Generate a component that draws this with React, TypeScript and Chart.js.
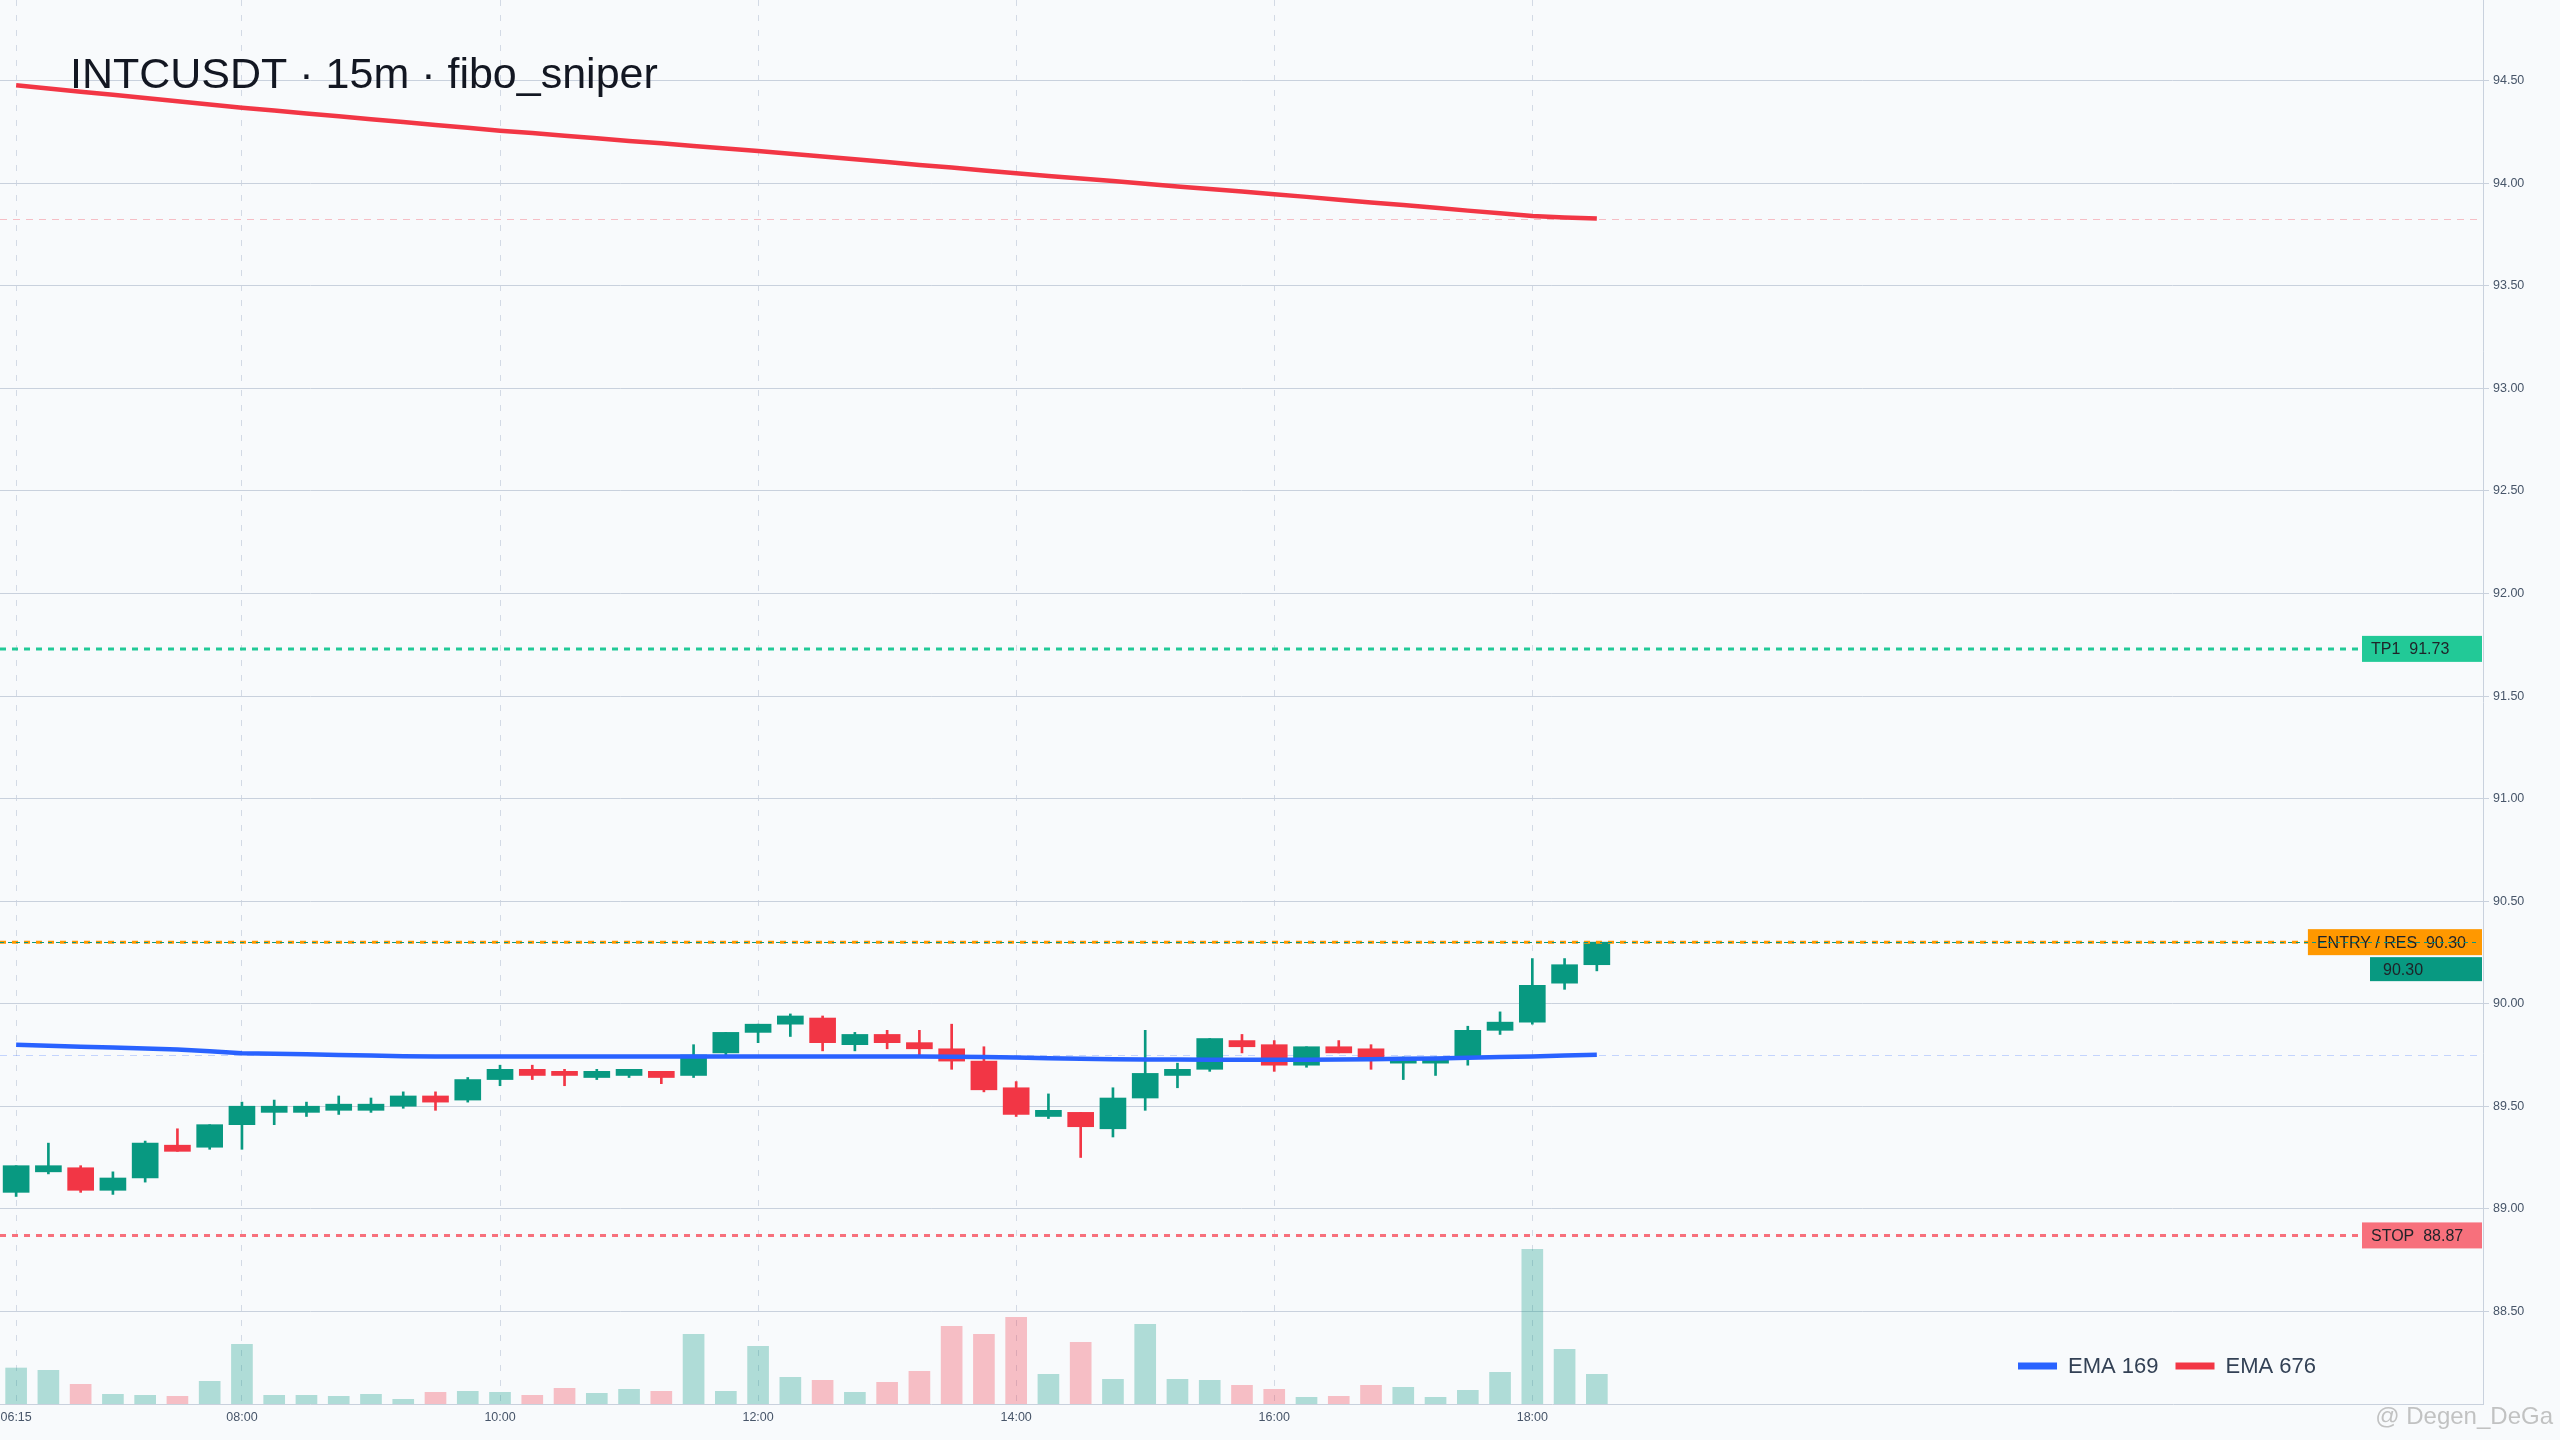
import React, { useEffect, useRef } from "react";
import { Chart, registerables } from "chart.js";

Chart.register(...registerables);

// ---------------- data ----------------
const TIMES = [
  "06:15", "06:30", "06:45", "07:00", "07:15", "07:30", "07:45", "08:00", "08:15", "08:30",
  "08:45", "09:00", "09:15", "09:30", "09:45", "10:00", "10:15", "10:30", "10:45", "11:00",
  "11:15", "11:30", "11:45", "12:00", "12:15", "12:30", "12:45", "13:00", "13:15", "13:30",
  "13:45", "14:00", "14:15", "14:30", "14:45", "15:00", "15:15", "15:30", "15:45", "16:00",
  "16:15", "16:30", "16:45", "17:00", "17:15", "17:30", "17:45", "18:00", "18:15", "18:30",
];

const OPEN = [
  89.08, 89.18, 89.20, 89.09, 89.15, 89.31, 89.30, 89.41, 89.47, 89.47,
  89.48, 89.48, 89.50, 89.55, 89.53, 89.63, 89.68, 89.67, 89.64, 89.65,
  89.67, 89.65, 89.76, 89.86, 89.90, 89.93, 89.80, 89.85, 89.81, 89.78,
  89.72, 89.59, 89.45, 89.47, 89.39, 89.54, 89.65, 89.68, 89.82, 89.80,
  89.70, 89.79, 89.78, 89.71, 89.71, 89.74, 89.87, 89.91, 90.10, 90.19,
];
const HIGH = [
  89.21, 89.32, 89.21, 89.18, 89.33, 89.39, 89.41, 89.52, 89.53, 89.52,
  89.55, 89.54, 89.57, 89.57, 89.64, 89.70, 89.70, 89.68, 89.68, 89.68,
  89.67, 89.80, 89.86, 89.90, 89.95, 89.94, 89.86, 89.87, 89.87, 89.90,
  89.79, 89.62, 89.56, 89.47, 89.59, 89.87, 89.71, 89.83, 89.85, 89.82,
  89.79, 89.82, 89.80, 89.74, 89.74, 89.89, 89.96, 90.22, 90.22, 90.30,
];
const LOW = [
  89.06, 89.17, 89.08, 89.07, 89.13, 89.28, 89.29, 89.29, 89.41, 89.45,
  89.46, 89.47, 89.49, 89.48, 89.52, 89.60, 89.63, 89.60, 89.63, 89.64,
  89.61, 89.64, 89.75, 89.81, 89.84, 89.77, 89.77, 89.78, 89.75, 89.68,
  89.57, 89.45, 89.44, 89.25, 89.35, 89.48, 89.59, 89.67, 89.76, 89.67,
  89.69, 89.76, 89.68, 89.63, 89.65, 89.70, 89.85, 89.90, 90.07, 90.16,
];
const CLOSE = [
  89.21, 89.21, 89.09, 89.15, 89.32, 89.28, 89.41, 89.50, 89.50, 89.50,
  89.51, 89.51, 89.55, 89.52, 89.63, 89.68, 89.65, 89.65, 89.67, 89.68,
  89.64, 89.75, 89.86, 89.90, 89.94, 89.81, 89.85, 89.81, 89.78, 89.72,
  89.58, 89.46, 89.48, 89.40, 89.54, 89.66, 89.68, 89.83, 89.79, 89.70,
  89.79, 89.76, 89.73, 89.73, 89.73, 89.87, 89.91, 90.09, 90.19, 90.30,
];
const VOLUME = [
  360, 337, 197, 97, 87, 77, 227, 597, 87, 87,
  77, 97, 47, 117, 127, 117, 87, 157, 107, 147,
  127, 697, 127, 577, 267, 237, 117, 217, 327, 777,
  697, 867, 297, 617, 247, 797, 247, 237, 187, 147,
  67, 77, 187, 167, 67, 137, 317, 1547, 547, 297,
];
const EMA169 = [
  89.800, 89.795, 89.790, 89.786, 89.782, 89.777, 89.768, 89.758, 89.756, 89.754,
  89.750, 89.747, 89.744, 89.743, 89.743, 89.743, 89.743, 89.743, 89.742, 89.742,
  89.742, 89.742, 89.742, 89.742, 89.742, 89.742, 89.742, 89.742, 89.742, 89.741,
  89.740, 89.737, 89.734, 89.731, 89.729, 89.728, 89.728, 89.727, 89.727, 89.727,
  89.727, 89.728, 89.729, 89.731, 89.733, 89.736, 89.740, 89.743, 89.747, 89.751,
];
const EMA676 = [
  94.478, 94.463, 94.447, 94.432, 94.416, 94.400, 94.385, 94.369, 94.355, 94.341,
  94.327, 94.313, 94.299, 94.285, 94.271, 94.257, 94.245, 94.232, 94.220, 94.207,
  94.195, 94.182, 94.170, 94.158, 94.144, 94.131, 94.117, 94.104, 94.090, 94.077,
  94.063, 94.049, 94.036, 94.024, 94.011, 93.998, 93.985, 93.973, 93.960, 93.947,
  93.934, 93.920, 93.907, 93.894, 93.881, 93.867, 93.854, 93.841, 93.834, 93.828,
];

const X_TICK_INDEX = [0, 7, 15, 23, 31, 39, 47];
const LEVEL_NAMES = ["TP1", "ENTRY / RES", "STOP"];
const LEVEL_PRICES = [91.73, 90.3, 88.87];
const TITLE = "INTCUSDT · 15m · fibo_sniper";
const LEGEND_LABELS = ["EMA 169", "EMA 676"];
const WATERMARK = "@ Degen_DeGa";

// ---------------- styling ----------------
const FONT = "'Liberation Sans', Arial, Helvetica, sans-serif";
const BG = "#f8fafc";
const UP = "#089981";
const DOWN = "#f23645";
const UP_VOL = "rgba(8,153,129,0.3)";
const DOWN_VOL = "rgba(242,54,69,0.3)";
const BLUE = "#2962ff";
const RED = "#f23645";
const LEVEL_COLORS = ["#22c997", "#ff9800", "#f7707c"];
const GRID = "#c9d1dd";
const VGRID = "#d3dae5";
const TICK_COLOR = "#475569";

const isUp = (i: number) => CLOSE[i] >= OPEN[i];

const overlayPlugin = {
  id: "overlay",
  beforeDraw(chart: any) {
    const { ctx, width, height } = chart;
    ctx.save();
    ctx.fillStyle = BG;
    ctx.fillRect(0, 0, width, height);
    ctx.restore();
  },
  beforeDatasetsDraw(chart: any) {
    const { ctx, chartArea } = chart;
    const y = chart.scales.y;
    const lines: [number, string][] = [
      [EMA169[EMA169.length - 1], "rgba(41,98,255,0.25)"],
      [EMA676[EMA676.length - 1], "rgba(242,54,69,0.3)"],
    ];
    ctx.save();
    lines.forEach(([v, c]) => {
      const py = Math.round(y.getPixelForValue(v)) + 0.5;
      ctx.strokeStyle = c;
      ctx.lineWidth = 1;
      ctx.setLineDash([7, 6]);
      ctx.beginPath();
      ctx.moveTo(chartArea.left, py);
      ctx.lineTo(chartArea.right - 6, py);
      ctx.stroke();
    });
    ctx.restore();
  },
  afterDatasetsDraw(chart: any) {
    const { ctx, chartArea } = chart;
    const y = chart.scales.y;
    const right = chartArea.right - 1;
    ctx.save();
    // level lines
    LEVEL_PRICES.forEach((p, i) => {
      const py = y.getPixelForValue(p);
      ctx.strokeStyle = LEVEL_COLORS[i];
      ctx.lineWidth = 3;
      ctx.setLineDash([6, 6]);
      ctx.beginPath();
      ctx.moveTo(chartArea.left, py);
      ctx.lineTo(chartArea.right, py);
      ctx.stroke();
    });
    ctx.setLineDash([]);
    // level boxes
    ctx.font = `16px ${FONT}`;
    ctx.textBaseline = "middle";
    ctx.textAlign = "left";
    const boxes: { top: number; bottom: number }[] = [];
    LEVEL_PRICES.forEach((p, i) => {
      const text = `${LEVEL_NAMES[i]}  ${p.toFixed(2)}`;
      const tw = ctx.measureText(text).width;
      const w = Math.max(120, tw + 25);
      const h = 26;
      const cy = y.getPixelForValue(p);
      const top = cy - h / 2;
      ctx.fillStyle = LEVEL_COLORS[i];
      ctx.fillRect(right - w, top, w, h);
      ctx.fillStyle = "#1f2328";
      ctx.fillText(text, right - w + 9, cy + 1);
      boxes.push({ top, bottom: top + h });
    });
    // last price line
    const last = CLOSE[CLOSE.length - 1];
    const ly = Math.round(y.getPixelForValue(last)) + 0.5;
    ctx.strokeStyle = UP;
    ctx.lineWidth = 1;
    ctx.setLineDash([4, 4]);
    ctx.beginPath();
    ctx.moveTo(chartArea.left, ly);
    ctx.lineTo(chartArea.right - 6, ly);
    ctx.stroke();
    ctx.setLineDash([]);
    // last price box, pushed below any overlapping level box
    const lh = 24;
    let ltop = ly - lh / 2;
    boxes.forEach((b) => {
      if (ltop < b.bottom && ltop + lh > b.top) ltop = b.bottom + 2;
    });
    const lw = 112;
    ctx.fillStyle = isUp(CLOSE.length - 1) ? UP : DOWN;
    ctx.fillRect(right - lw, ltop, lw, lh);
    ctx.fillStyle = "#1f2328";
    ctx.fillText(last.toFixed(2), right - lw + 13, ltop + lh / 2 + 1);

    // title
    ctx.font = `43px ${FONT}`;
    ctx.textBaseline = "alphabetic";
    ctx.fillStyle = "#131722";
    ctx.fillText(TITLE, chartArea.left + 70, chartArea.top + 88);

    // legend
    ctx.font = `22px ${FONT}`;
    ctx.textBaseline = "middle";
    const colors = [BLUE, RED];
    const sw = 39, gap = 11, itemGap = 17;
    const widths = LEGEND_LABELS.map((l) => sw + gap + ctx.measureText(l).width);
    const total = widths.reduce((a, b) => a + b, 0) + itemGap * (widths.length - 1);
    let lx = chartArea.right - 167 - total;
    const lyc = chartArea.bottom - 38;
    LEGEND_LABELS.forEach((l, i) => {
      ctx.fillStyle = colors[i];
      ctx.fillRect(lx, lyc - 3.5, sw, 7);
      ctx.fillStyle = "#334155";
      ctx.fillText(l, lx + sw + gap, lyc + 1);
      lx += widths[i] + itemGap;
    });

    // watermark
    ctx.font = `24px ${FONT}`;
    ctx.textBaseline = "alphabetic";
    ctx.fillStyle = "rgba(175,175,175,0.75)";
    ctx.textAlign = "right";
    ctx.fillText(WATERMARK, chart.width - 7, chart.height - 16);
    ctx.restore();
  },
};

export default function App() {
  const canvasRef = useRef<HTMLCanvasElement | null>(null);

  useEffect(() => {
    const canvas = canvasRef.current;
    if (!canvas) return;
    const idx = CLOSE.map((_, i) => i);
    const volMax = Math.max(...VOLUME) * 9.08;

    const chart = new Chart(canvas, {
      type: "bar",
      data: {
        datasets: [
          {
            type: "line",
            label: "EMA 676",
            data: idx.map((i) => ({ x: i, y: EMA676[i] })),
            borderColor: RED,
            borderWidth: 4.5,
            pointRadius: 0,
            tension: 0,
            yAxisID: "y",
            order: 1,
          } as any,
          {
            type: "line",
            label: "EMA 169",
            data: idx.map((i) => ({ x: i, y: EMA169[i] })),
            borderColor: BLUE,
            borderWidth: 4.5,
            pointRadius: 0,
            tension: 0,
            yAxisID: "y",
            order: 2,
          } as any,
          {
            label: "body",
            data: idx.map((i) => ({ x: i, y: [OPEN[i], CLOSE[i]] })),
            backgroundColor: idx.map((i) => (isUp(i) ? UP : DOWN)),
            barThickness: 26,
            grouped: false,
            borderWidth: 0,
            yAxisID: "y",
            order: 3,
          } as any,
          {
            label: "wick",
            data: idx.map((i) => ({ x: i, y: [LOW[i], HIGH[i]] })),
            backgroundColor: idx.map((i) => (isUp(i) ? UP : DOWN)),
            barThickness: 2,
            grouped: false,
            borderWidth: 0,
            yAxisID: "y",
            order: 4,
          } as any,
          {
            label: "volume",
            data: idx.map((i) => ({ x: i, y: VOLUME[i] })),
            backgroundColor: idx.map((i) => (isUp(i) ? UP_VOL : DOWN_VOL)),
            barThickness: 21,
            grouped: false,
            borderWidth: 0,
            yAxisID: "vol",
            order: 5,
          } as any,
        ],
      },
      options: {
        animation: false,
        responsive: true,
        maintainAspectRatio: false,
        layout: { padding: 0 },
        plugins: {
          legend: { display: false },
          tooltip: { enabled: false },
          title: { display: false },
        },
        scales: {
          x: {
            type: "linear",
            offset: false,
            min: -0.5,
            max: 76.47,
            afterBuildTicks: (scale: any) => {
              scale.ticks = X_TICK_INDEX.map((v) => ({ value: v }));
            },
            afterFit: (scale: any) => {
              scale.height = 36;
              scale.paddingLeft = 0;
              scale.paddingRight = 0;
            },
            ticks: {
              autoSkip: false,
              maxRotation: 0,
              padding: 6,
              color: TICK_COLOR,
              font: { family: FONT, size: 12.5 },
              callback: (v: any) => TIMES[Number(v)] ?? "",
            },
            grid: { offset: false, color: VGRID, lineWidth: 1, drawTicks: false },
            border: { display: true, color: GRID, width: 1, dash: [6, 9] },
          },
          y: {
            type: "linear",
            position: "right",
            min: 88.048,
            max: 94.894,
            afterFit: (scale: any) => {
              scale.width = 77;
              scale.paddingTop = 0;
              scale.paddingBottom = 0;
            },
            ticks: {
              stepSize: 0.5,
              includeBounds: false,
              padding: 4,
              color: TICK_COLOR,
              font: { family: FONT, size: 12.5 },
              callback: (v: any) => Number(v).toFixed(2),
            },
            grid: { color: GRID, lineWidth: 1, drawTicks: true, tickLength: 6 },
            border: { display: true, color: GRID, width: 1 },
          },
          vol: {
            type: "linear",
            display: false,
            min: 0,
            max: volMax,
          },
        },
      } as any,
      plugins: [overlayPlugin],
    });

    return () => chart.destroy();
  }, []);

  return (
    <div
      style={{
        position: "fixed",
        left: 0,
        top: 0,
        width: "2560px",
        height: "1440px",
        background: BG,
      }}
    >
      <canvas ref={canvasRef} style={{ display: "block" }} />
    </div>
  );
}
